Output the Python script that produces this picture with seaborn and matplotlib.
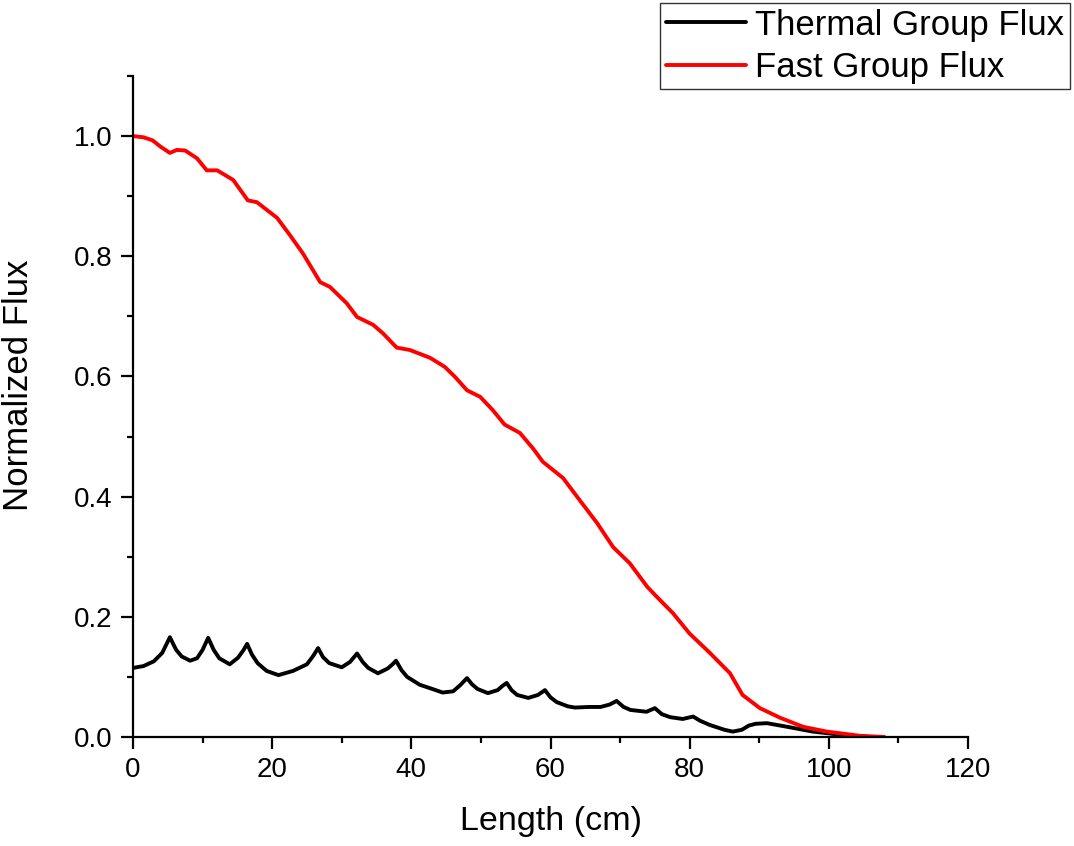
import matplotlib
matplotlib.use("Agg")
import matplotlib.pyplot as plt
import seaborn as sns
import pandas as pd
from matplotlib.ticker import MultipleLocator, FormatStrFormatter
from matplotlib.lines import Line2D

# ---- data ----
thermal_x = [0, 1.5, 3.0, 4.2, 5.3, 6.2, 7.0, 8.2, 9.2, 10.0, 10.8, 11.6, 12.4, 13.9,
             15.1, 15.9, 16.4, 17.1, 17.9, 19.2, 20.9, 23.0, 25.0, 25.9, 26.6, 27.3,
             28.2, 30.0, 31.2, 32.2, 33.0, 33.8, 35.2, 36.6, 37.3, 37.8, 38.6, 39.4,
             41.2, 43.0, 44.5, 46.0, 47.0, 48.0, 48.7, 49.5, 51.0, 52.4, 53.1, 53.7,
             54.4, 55.2, 56.8, 58.2, 59.2, 60.0, 60.9, 62.5, 63.5, 65.5, 67.2, 68.5,
             69.5, 70.5, 71.5, 73.8, 75.0, 76.0, 77.2, 79.0, 80.5, 81.5, 82.9, 85.0,
             86.2, 87.5, 88.5, 89.5, 91.1, 94.0, 97.7, 100.0, 102.0, 104.5, 106.0]
thermal_y = [0.115, 0.118, 0.126, 0.140, 0.166, 0.145, 0.134, 0.127, 0.131, 0.145, 0.165,
             0.145, 0.131, 0.121, 0.132, 0.145, 0.155, 0.137, 0.123, 0.110, 0.103, 0.110,
             0.121, 0.135, 0.148, 0.133, 0.123, 0.116, 0.125, 0.139, 0.125, 0.115, 0.106,
             0.114, 0.121, 0.127, 0.111, 0.100, 0.087, 0.080, 0.074, 0.076, 0.086, 0.098,
             0.088, 0.080, 0.073, 0.078, 0.085, 0.090, 0.078, 0.070, 0.065, 0.070, 0.078,
             0.066, 0.058, 0.051, 0.049, 0.050, 0.050, 0.054, 0.060, 0.050, 0.045, 0.042,
             0.048, 0.038, 0.033, 0.030, 0.034, 0.027, 0.020, 0.012, 0.009, 0.012, 0.019,
             0.022, 0.023, 0.017, 0.009, 0.006, 0.003, 0.001, 0.000]

fast_x = [0, 1.5, 2.8, 4.0, 5.3, 6.3, 7.5, 9.2, 10.6, 12.1, 14.4, 16.5, 17.8, 20.7, 22.5,
          24.4, 26.9, 28.3, 30.7, 32.2, 34.5, 35.9, 37.9, 39.8, 42.7, 44.8, 46.3, 48.0,
          49.9, 51.7, 53.4, 55.6, 57.5, 58.9, 61.8, 64.2, 66.7, 69.0, 71.4, 73.9, 75.3,
          77.6, 80.0, 82.9, 85.8, 87.6, 90.1, 93.0, 96.3, 99.7, 104.5, 108.0]
fast_y = [1.000, 0.998, 0.993, 0.982, 0.972, 0.977, 0.976, 0.963, 0.943, 0.943, 0.927,
          0.893, 0.890, 0.864, 0.836, 0.805, 0.757, 0.749, 0.722, 0.699, 0.686, 0.672,
          0.648, 0.644, 0.631, 0.616, 0.599, 0.577, 0.566, 0.544, 0.520, 0.506, 0.480,
          0.458, 0.431, 0.394, 0.356, 0.316, 0.289, 0.250, 0.233, 0.206, 0.172, 0.140,
          0.106, 0.070, 0.048, 0.032, 0.017, 0.009, 0.002, 0.000]

series_names = ["Thermal Group Flux", "Fast Group Flux"]
x_label = "Length (cm)"
y_label = "Normalized Flux"

df = pd.concat([
    pd.DataFrame({"x": thermal_x, "y": thermal_y, "series": series_names[0]}),
    pd.DataFrame({"x": fast_x, "y": fast_y, "series": series_names[1]}),
], ignore_index=True)

sns.set_style("ticks")
plt.rcParams["font.family"] = ["Liberation Sans", "DejaVu Sans"]
plt.rcParams["text.color"] = "black"
plt.rcParams["axes.labelcolor"] = "black"
plt.rcParams["xtick.color"] = "black"
plt.rcParams["ytick.color"] = "black"

fig = plt.figure(figsize=(10.74, 8.46), dpi=100)
ax = fig.add_axes([133 / 1074, 1 - 737 / 846, (968 - 133) / 1074, (737 - 76) / 846])

sns.lineplot(data=df, x="x", y="y", hue="series", sort=False,
             palette={series_names[0]: "black", series_names[1]: "#ff0000"},
             linewidth=2.8, ax=ax, legend=False, estimator=None,
             solid_joinstyle="round", solid_capstyle="round")

ax.set_xlim(0, 120)
ax.set_ylim(0, 1.1)
ax.xaxis.set_major_locator(MultipleLocator(20))
ax.xaxis.set_minor_locator(MultipleLocator(10))
ax.yaxis.set_major_locator(MultipleLocator(0.2))
ax.yaxis.set_minor_locator(MultipleLocator(0.1))
ax.yaxis.set_major_formatter(FormatStrFormatter("%.1f"))

for s in ["top", "right"]:
    ax.spines[s].set_visible(False)
for s in ["left", "bottom"]:
    ax.spines[s].set_linewidth(1.6)
    ax.spines[s].set_color("black")

ax.tick_params(which="major", direction="out", length=8.5, width=1.6,
               labelsize=20, pad=6, colors="black")
ax.tick_params(which="minor", direction="out", length=4.5, width=1.6, colors="black")

ax.set_xlabel(x_label, fontsize=24.5, color="black")
ax.set_ylabel(y_label, fontsize=25, color="black")
ax.xaxis.set_label_coords(0.5, (737 - 806) / 661)
ax.yaxis.set_label_coords((35 - 133) / 835, 0.5325)

handles = [Line2D([], [], color="black", lw=2.8), Line2D([], [], color="#ff0000", lw=2.8)]
leg = fig.legend(handles, series_names, loc="upper right",
                 bbox_to_anchor=(1070 / 1074, 1 - 3 / 846), fontsize=25,
                 frameon=True, fancybox=False, borderaxespad=0, handlelength=2.3,
                 handletextpad=0.28, borderpad=0.16, labelspacing=0.27)
leg.get_frame().set_edgecolor("black")
leg.get_frame().set_linewidth(1.0)
for t in leg.get_texts():
    t.set_color("black")

fig.savefig("out.png", dpi=100)
